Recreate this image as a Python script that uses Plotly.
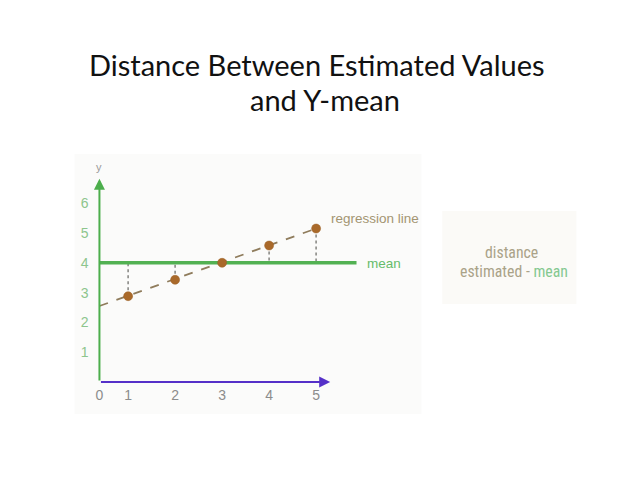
import plotly.graph_objects as go

# ---- data ----
x_points = [1, 2, 3, 4, 5]
y_estimated = [2.88, 3.43, 4.0, 4.58, 5.15]
y_mean = 4.0
reg_line_x = [0.39, 5.0]
reg_line_y = [2.55, 5.15]
mean_line_x = [0.39, 5.86]
x_tick_values = [0.39, 1, 2, 3, 4, 5]
x_tick_labels = ["0", "1", "2", "3", "4", "5"]
y_tick_values = [1, 2, 3, 4, 5, 6]
y_tick_labels = ["1", "2", "3", "4", "5", "6"]

W, H = 638, 493
OX, OY = -10, -7   # page offset compensation
def px(x):
    return (x + OX) / W
def py(y):
    return 1 - (y + OY) / H

fig = go.Figure()

# drop lines (estimated -> mean)
dx, dy = [], []
for xv, yv in zip(x_points, y_estimated):
    dx += [xv, xv, None]
    dy += [yv, y_mean, None]
fig.add_trace(go.Scatter(x=dx, y=dy, mode="lines",
                         line=dict(color="#8a8a86", width=1.6, dash="dot"),
                         hoverinfo="skip", showlegend=False))

# mean line
fig.add_trace(go.Scatter(x=mean_line_x, y=[y_mean, y_mean], mode="lines",
                         line=dict(color="#52b152", width=3.5),
                         showlegend=False))

# regression line
fig.add_trace(go.Scatter(x=reg_line_x, y=reg_line_y, mode="lines",
                         line=dict(color="#8f7c5c", width=1.8, dash="dash"),
                         showlegend=False))

# estimated points
fig.add_trace(go.Scatter(x=x_points, y=y_estimated, mode="markers",
                         marker=dict(color="#a9692a", size=9,
                                     line=dict(color="#9a5e22", width=0.5)),
                         showlegend=False))

x0 = x_tick_values[0]
lbl = dict(family="Liberation Sans", size=13.5)
note = dict(family="Liberation Sans Narrow, Roboto Condensed, Liberation Sans", size=15.8)
annotations = [
    # x axis arrow
    dict(x=5.3, y=0, ax=x0, ay=0, xref="x", yref="y", axref="x", ayref="y",
         text="", showarrow=True, arrowhead=2, arrowsize=1.1, arrowwidth=2,
         arrowcolor="#5530c8", standoff=0),
    # y axis arrow
    dict(x=x0, y=6.82, ax=x0, ay=0, xref="x", yref="y", axref="x", ayref="y",
         text="", showarrow=True, arrowhead=2, arrowsize=1.1, arrowwidth=2,
         arrowcolor="#4cae4c", standoff=0),
    dict(x=x0, y=7.2, xref="x", yref="y", text="y", showarrow=False,
         xanchor="center", yanchor="middle",
         font=dict(family="Liberation Sans", size=11, color="#9a9a9a")),
    dict(x=5.84, y=-0.05, xref="x", yref="y", text="x", showarrow=False,
         xanchor="center", yanchor="middle",
         font=dict(family="Liberation Sans", size=11, color="#9a9a9a")),
    dict(x=px(329), y=py(217), xref="paper", yref="paper", text="regression line",
         showarrow=False, xanchor="left", yanchor="middle",
         font=dict(**lbl, color="#a39572")),
    dict(x=px(365), y=py(262), xref="paper", yref="paper", text="mean",
         showarrow=False, xanchor="left", yanchor="middle",
         font=dict(**lbl, color="#66bb6a")),
    # right note
    dict(x=px(513), y=py(251), xref="paper", yref="paper", text="distance",
         showarrow=False, xanchor="center", yanchor="middle",
         font=dict(**note, color="#aaa288")),
    dict(x=px(515), y=py(270), xref="paper", yref="paper",
         text="estimated - <span style='color:#84c890'>mean</span>",
         showarrow=False, xanchor="center", yanchor="middle",
         font=dict(**note, color="#aaa288")),
    # title
    dict(x=px(317), y=py(63), xref="paper", yref="paper",
         text="Distance Between Estimated Values", showarrow=False,
         xanchor="center", yanchor="middle",
         font=dict(family="Lato", size=29, color="#111111")),
    dict(x=px(325), y=py(99), xref="paper", yref="paper",
         text="and Y-mean", showarrow=False,
         xanchor="center", yanchor="middle",
         font=dict(family="Lato", size=29, color="#111111")),
]

shapes = [
    dict(type="rect", xref="paper", yref="paper", x0=px(73), x1=px(422),
         y0=py(413), y1=py(153), fillcolor="#fbfbfa", line=dict(width=0),
         layer="below"),
    dict(type="rect", xref="paper", yref="paper", x0=px(443), x1=px(578),
         y0=py(303), y1=py(210), fillcolor="#fbfaf7", line=dict(width=0),
         layer="below"),
]

fig.update_layout(
    width=W, height=H,
    margin=dict(l=0, r=0, t=0, b=0),
    paper_bgcolor="white",
    plot_bgcolor="rgba(0,0,0,0)",
    annotations=annotations,
    shapes=shapes,
    xaxis=dict(domain=[px(98), px(410.6)], range=[x0, 7.0],
               tickvals=x_tick_values, ticktext=x_tick_labels,
               showgrid=False, zeroline=False, showline=False,
               ticks="outside", ticklen=0, tickcolor="rgba(0,0,0,0)",
               tickfont=dict(family="Liberation Sans", size=14, color="#8c8c8c")),
    yaxis=dict(domain=[py(381), py(142.6)], range=[0, 8],
               tickvals=y_tick_values, ticktext=y_tick_labels,
               showgrid=False, zeroline=False, showline=False,
               ticks="outside", ticklen=7, tickcolor="rgba(0,0,0,0)",
               tickfont=dict(family="Liberation Sans", size=14, color="#8dc58d")),
)

fig.write_html("out.html")
